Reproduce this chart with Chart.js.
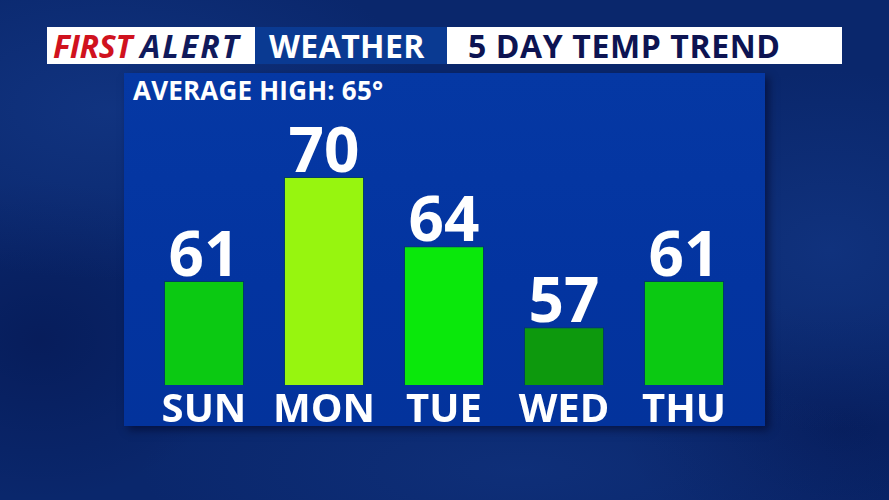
<!DOCTYPE html>
<html>
<head>
<meta charset="utf-8">
<script src="https://cdn.jsdelivr.net/npm/chart.js@4"></script>
<style>
    html, body { margin: 0; padding: 0; }
    body {
        width: 889px; height: 500px; overflow: hidden; position: relative;
        font-family: "Open Sans", "DejaVu Sans", sans-serif; font-weight: 700;
        background:
            radial-gradient(ellipse 320px 170px at 110px 110px, rgba(30,75,165,0.35), transparent),
            radial-gradient(ellipse 240px 180px at 830px 250px, rgba(30,75,165,0.3), transparent),
            radial-gradient(ellipse 380px 110px at 520px 470px, rgba(25,65,150,0.3), transparent),
            radial-gradient(ellipse 200px 160px at 40px 340px, rgba(0,10,60,0.35), transparent),
            radial-gradient(ellipse 220px 130px at 840px 430px, rgba(0,10,60,0.3), transparent),
            #0a276c;
    }
    .hdr { position: absolute; top: 27px; height: 37px; line-height: 38px; font-size: 32px; white-space: nowrap; box-sizing: border-box; }
    #alert { left: 47px; width: 208px; background: #fff; font-style: italic; padding-left: 6px; }
    #alert .r { color: #d0121e; letter-spacing: -0.3px; }
    #alert .b { color: #101a5c; letter-spacing: 2px; margin-left: 8px; }
    #wx { left: 255px; width: 192px; background: #0a3a92; color: #fff; padding-left: 14px; letter-spacing: 0.4px; }
    #trend { left: 447px; width: 395px; background: #fff; color: #0d1452; padding-left: 21px; letter-spacing: 0.6px; }
    #panel {
        position: absolute; left: 124px; top: 73px; width: 641px; height: 353px;
        background: linear-gradient(180deg, #0538a4 0%, #0334a0 60%, #03339c 100%);
        box-shadow: 4px 4px 8px rgba(0,0,30,0.5);
    }
    #avg { position: absolute; left: 133px; top: 73px; font-size: 26px; color: #fff; line-height: 34px; letter-spacing: 0.2px; }
    #chart { position: absolute; left: 0; top: 0; }
</style>
</head>
<body>
<div class="hdr" id="alert"><span class="r">FIRST</span><span class="b">ALERT</span></div>
<div class="hdr" id="wx">WEATHER</div>
<div class="hdr" id="trend">5 DAY TEMP TREND</div>
<div id="panel"></div>
<div id="avg">AVERAGE HIGH: 65°</div>
<canvas id="chart" width="889" height="500"></canvas>
<script>
const days = ['SUN', 'MON', 'TUE', 'WED', 'THU'];
const highs = [61, 70, 64, 57, 61];
const barColors = ['#0bc912', '#97f50f', '#0ae80b', '#0d990d', '#0bc912'];
const yMin = 52;
const yMax = 79;

// draw the temperature above each bar
const valueLabels = {
    id: 'valueLabels',
    afterDatasetsDraw(chart) {
        const ctx = chart.ctx;
        const meta = chart.getDatasetMeta(0);
        ctx.save();
        ctx.fillStyle = '#ffffff';
        ctx.font = 'bold 62px "Open Sans"';
        ctx.textAlign = 'center';
        ctx.textBaseline = 'alphabetic';
        meta.data.forEach((bar, i) => {
            ctx.fillText(String(highs[i]), bar.x, bar.y - 5);
        });
        ctx.restore();
    }
};

new Chart(document.getElementById('chart').getContext('2d'), {
    type: 'bar',
    data: {
        labels: days,
        datasets: [{
            data: highs,
            backgroundColor: barColors,
            borderColor: 'rgba(0,80,0,0.35)',
            borderWidth: 1,
            categoryPercentage: 1,
            barPercentage: 0.667
        }]
    },
    options: {
        responsive: false,
        animation: false,
        layout: { padding: { left: 144, right: 145, top: 73, bottom: 0 } },
        scales: {
            y: { display: false, min: yMin, max: yMax },
            x: {
                grid: { display: false, drawTicks: false },
                border: { display: false },
                ticks: {
                    color: '#ffffff',
                    font: { family: 'Open Sans', size: 40, weight: 'bold' },
                    padding: 2
                },
                afterFit: (scale) => { scale.height = 115; }
            }
        },
        plugins: {
            legend: { display: false },
            tooltip: { enabled: false }
        }
    },
    plugins: [valueLabels]
});
</script>
</body>
</html>
